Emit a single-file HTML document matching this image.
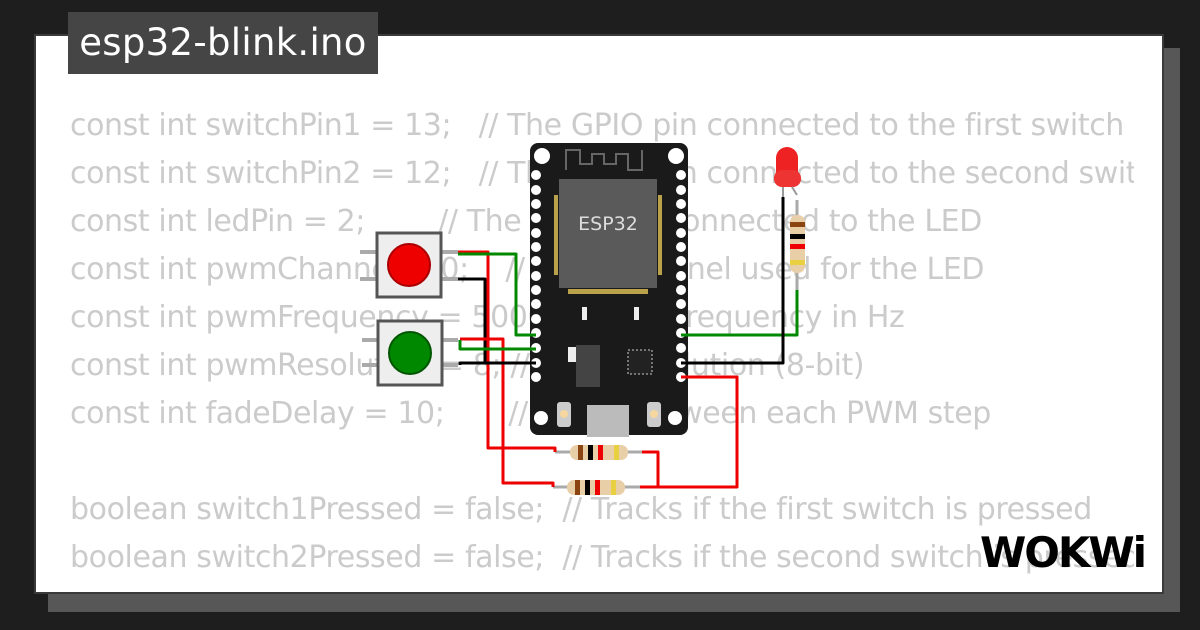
<!DOCTYPE html>
<html><head><meta charset="utf-8"><style>
body{margin:0;width:1200px;height:630px;background:#1e1e1e;position:relative;overflow:hidden;font-family:"Liberation Sans","DejaVu Sans",sans-serif}
.sh{position:absolute;left:48px;top:48px;width:1132px;height:564px;background:#575757}
.card{position:absolute;left:34px;top:34px;width:1130px;height:560px;background:#fff;border:2px solid #3a3a3a;box-sizing:border-box;overflow:hidden}
.code{position:absolute;left:34px;top:66px;width:1064px;overflow:hidden;font-size:30px;line-height:48px;color:#cbcbcb;white-space:pre;font-family:"DejaVu Sans","Liberation Sans",sans-serif;letter-spacing:-0.4px}
.title{position:absolute;left:68px;top:12px;width:310px;height:62px;background:#454545;color:#fff;font-size:37px;line-height:62px;text-align:center;font-family:"DejaVu Sans",sans-serif;letter-spacing:0.3px}
svg{position:absolute;left:0;top:0}
</style></head><body>
<div class="sh"></div>
<div class="card"><div class="code">const int switchPin1 = 13;   // The GPIO pin connected to the first switch
const int switchPin2 = 12;   // The GPIO pin connected to the second switch
const int ledPin = 2;        // The GPIO pin connected to the LED
const int pwmChannel = 0;    // PWM channel used for the LED
const int pwmFrequency = 5000; // PWM frequency in Hz
const int pwmResolution = 8; // PWM resolution (8-bit)
const int fadeDelay = 10;       // Delay between each PWM step

boolean switch1Pressed = false;  // Tracks if the first switch is pressed
boolean switch2Pressed = false;  // Tracks if the second switch is pressed</div></div>
<div class="title">esp32-blink.ino</div>
<svg width="1200" height="630" viewBox="0 0 1200 630">
<rect x="530" y="143" width="158" height="292" rx="8" fill="#1a1a1a"/>
<path d="M566 170V150h14v14h12v-10h12v10h12v-10h12v16h14V150" fill="none" stroke="#666" stroke-width="2"/>
<rect x="559" y="179" width="98" height="109" fill="#5a5a5a"/>
<text x="608" y="230" font-size="19" fill="#ddd" text-anchor="middle" font-family="DejaVu Sans">ESP32</text>
<g fill="#b9a24a"><rect x="554" y="195" width="4" height="80"/><rect x="658" y="195" width="4" height="80"/><rect x="568" y="289" width="80" height="5"/></g>
<circle cx="542" cy="156" r="8" fill="#fff"/><circle cx="676" cy="156" r="8" fill="#fff"/><circle cx="541" cy="418" r="7" fill="#fff"/><circle cx="675" cy="418" r="7" fill="#fff"/>
<g fill="#fff">
<circle cx="536" cy="175" r="5"/><circle cx="536" cy="190" r="5"/><circle cx="536" cy="204" r="5"/><circle cx="536" cy="218" r="5"/><circle cx="536" cy="233" r="5"/><circle cx="536" cy="247" r="5"/><circle cx="536" cy="261" r="5"/><circle cx="536" cy="276" r="5"/><circle cx="536" cy="290" r="5"/><circle cx="536" cy="304" r="5"/><circle cx="536" cy="319" r="5"/><circle cx="536" cy="333" r="5"/><circle cx="536" cy="348" r="5"/><circle cx="536" cy="363" r="5"/><circle cx="536" cy="377" r="5"/>
<circle cx="681" cy="175" r="5"/><circle cx="681" cy="190" r="5"/><circle cx="681" cy="204" r="5"/><circle cx="681" cy="218" r="5"/><circle cx="681" cy="233" r="5"/><circle cx="681" cy="247" r="5"/><circle cx="681" cy="261" r="5"/><circle cx="681" cy="276" r="5"/><circle cx="681" cy="290" r="5"/><circle cx="681" cy="304" r="5"/><circle cx="681" cy="319" r="5"/><circle cx="681" cy="333" r="5"/><circle cx="681" cy="348" r="5"/><circle cx="681" cy="363" r="5"/><circle cx="681" cy="377" r="5"/>
</g>
<rect x="568" y="347" width="10" height="15" fill="#eee"/><rect x="576" y="345" width="24" height="42" fill="#444"/>
<rect x="628" y="350" width="24" height="24" fill="#222" stroke="#ccc" stroke-width="1" stroke-dasharray="2 2"/>
<rect x="582" y="307" width="5" height="13" fill="#eee"/><rect x="634" y="307" width="5" height="13" fill="#eee"/>
<rect x="587" y="405" width="42" height="32" fill="#bbb"/>
<rect x="557" y="402" width="14" height="25" rx="3" fill="#ccc"/><circle cx="564" cy="414" r="4" fill="#f6d7a0"/>
<rect x="647" y="402" width="14" height="25" rx="3" fill="#ccc"/><circle cx="654" cy="414" r="4" fill="#f6d7a0"/>
<g stroke="#aaa" stroke-width="4"><path d="M360 252h18M360 279h18M442 252h16M442 279h16M362 340h18M362 365h18M442 340h16M442 365h16"/></g>
<rect x="377" y="233" width="64" height="64" fill="#eee" stroke="#555" stroke-width="3"/>
<circle cx="409" cy="265" r="21" fill="#e00" stroke="#a00" stroke-width="2"/>
<rect x="378" y="321" width="64" height="64" fill="#eee" stroke="#555" stroke-width="3"/>
<circle cx="410" cy="353" r="21" fill="#080" stroke="#050" stroke-width="2"/>
<g stroke="#aaa" stroke-width="3"><path d="M555 452h90M553 487h90M797 200v20M797 270v20"/></g>
<rect x="570" y="445" width="58" height="15" rx="7" fill="#e9cfa7"/>
<rect x="578" y="445" width="5" height="15" fill="#8b4513"/><rect x="588" y="445" width="5" height="15" fill="#000"/><rect x="598" y="445" width="5" height="15" fill="#e00"/><rect x="614" y="445" width="5" height="15" fill="#e8d040"/>
<rect x="567" y="480" width="58" height="15" rx="7" fill="#e9cfa7"/>
<rect x="575" y="480" width="5" height="15" fill="#8b4513"/><rect x="585" y="480" width="5" height="15" fill="#000"/><rect x="595" y="480" width="5" height="15" fill="#e00"/><rect x="611" y="480" width="5" height="15" fill="#e8d040"/>
<rect x="790" y="215" width="15" height="58" rx="7" fill="#e9cfa7"/>
<rect x="790" y="222" width="15" height="5" fill="#8b4513"/><rect x="790" y="234" width="15" height="5" fill="#000"/><rect x="790" y="244" width="15" height="5" fill="#e00"/><rect x="790" y="260" width="15" height="5" fill="#e8d040"/>
<path d="M776 178v-20a11 11 0 0 1 22 0v20z" fill="#e22"/><rect x="774" y="170" width="27" height="17" rx="8" fill="#e33"/>
<path d="M783 187v10M792 187l5 8" stroke="#999" stroke-width="2" fill="none"/>
<g fill="none" stroke-width="3" stroke-linejoin="round">
<path d="M458 252H488V448H555V452" stroke="#e00"/>
<path d="M458 254H516V335H536" stroke="#080"/>
<path d="M458 279H485V363H536" stroke="#000"/>
<path d="M460 339H503V483H553V487" stroke="#e00"/>
<path d="M460 340V349H536" stroke="#080"/>
<path d="M460 365V363H536" stroke="#000"/>
<path d="M681 335H797V290" stroke="#080"/>
<path d="M681 363H783V197" stroke="#000"/>
<path d="M681 377H737V487H640" stroke="#e00"/>
<path d="M642 452H658V486" stroke="#e00"/>
</g>
<text x="980" y="567" font-size="42" font-weight="bold" font-family="DejaVu Sans" fill="#000" letter-spacing="1" textLength="168">WOKWi</text>
</svg>
</body></html>
